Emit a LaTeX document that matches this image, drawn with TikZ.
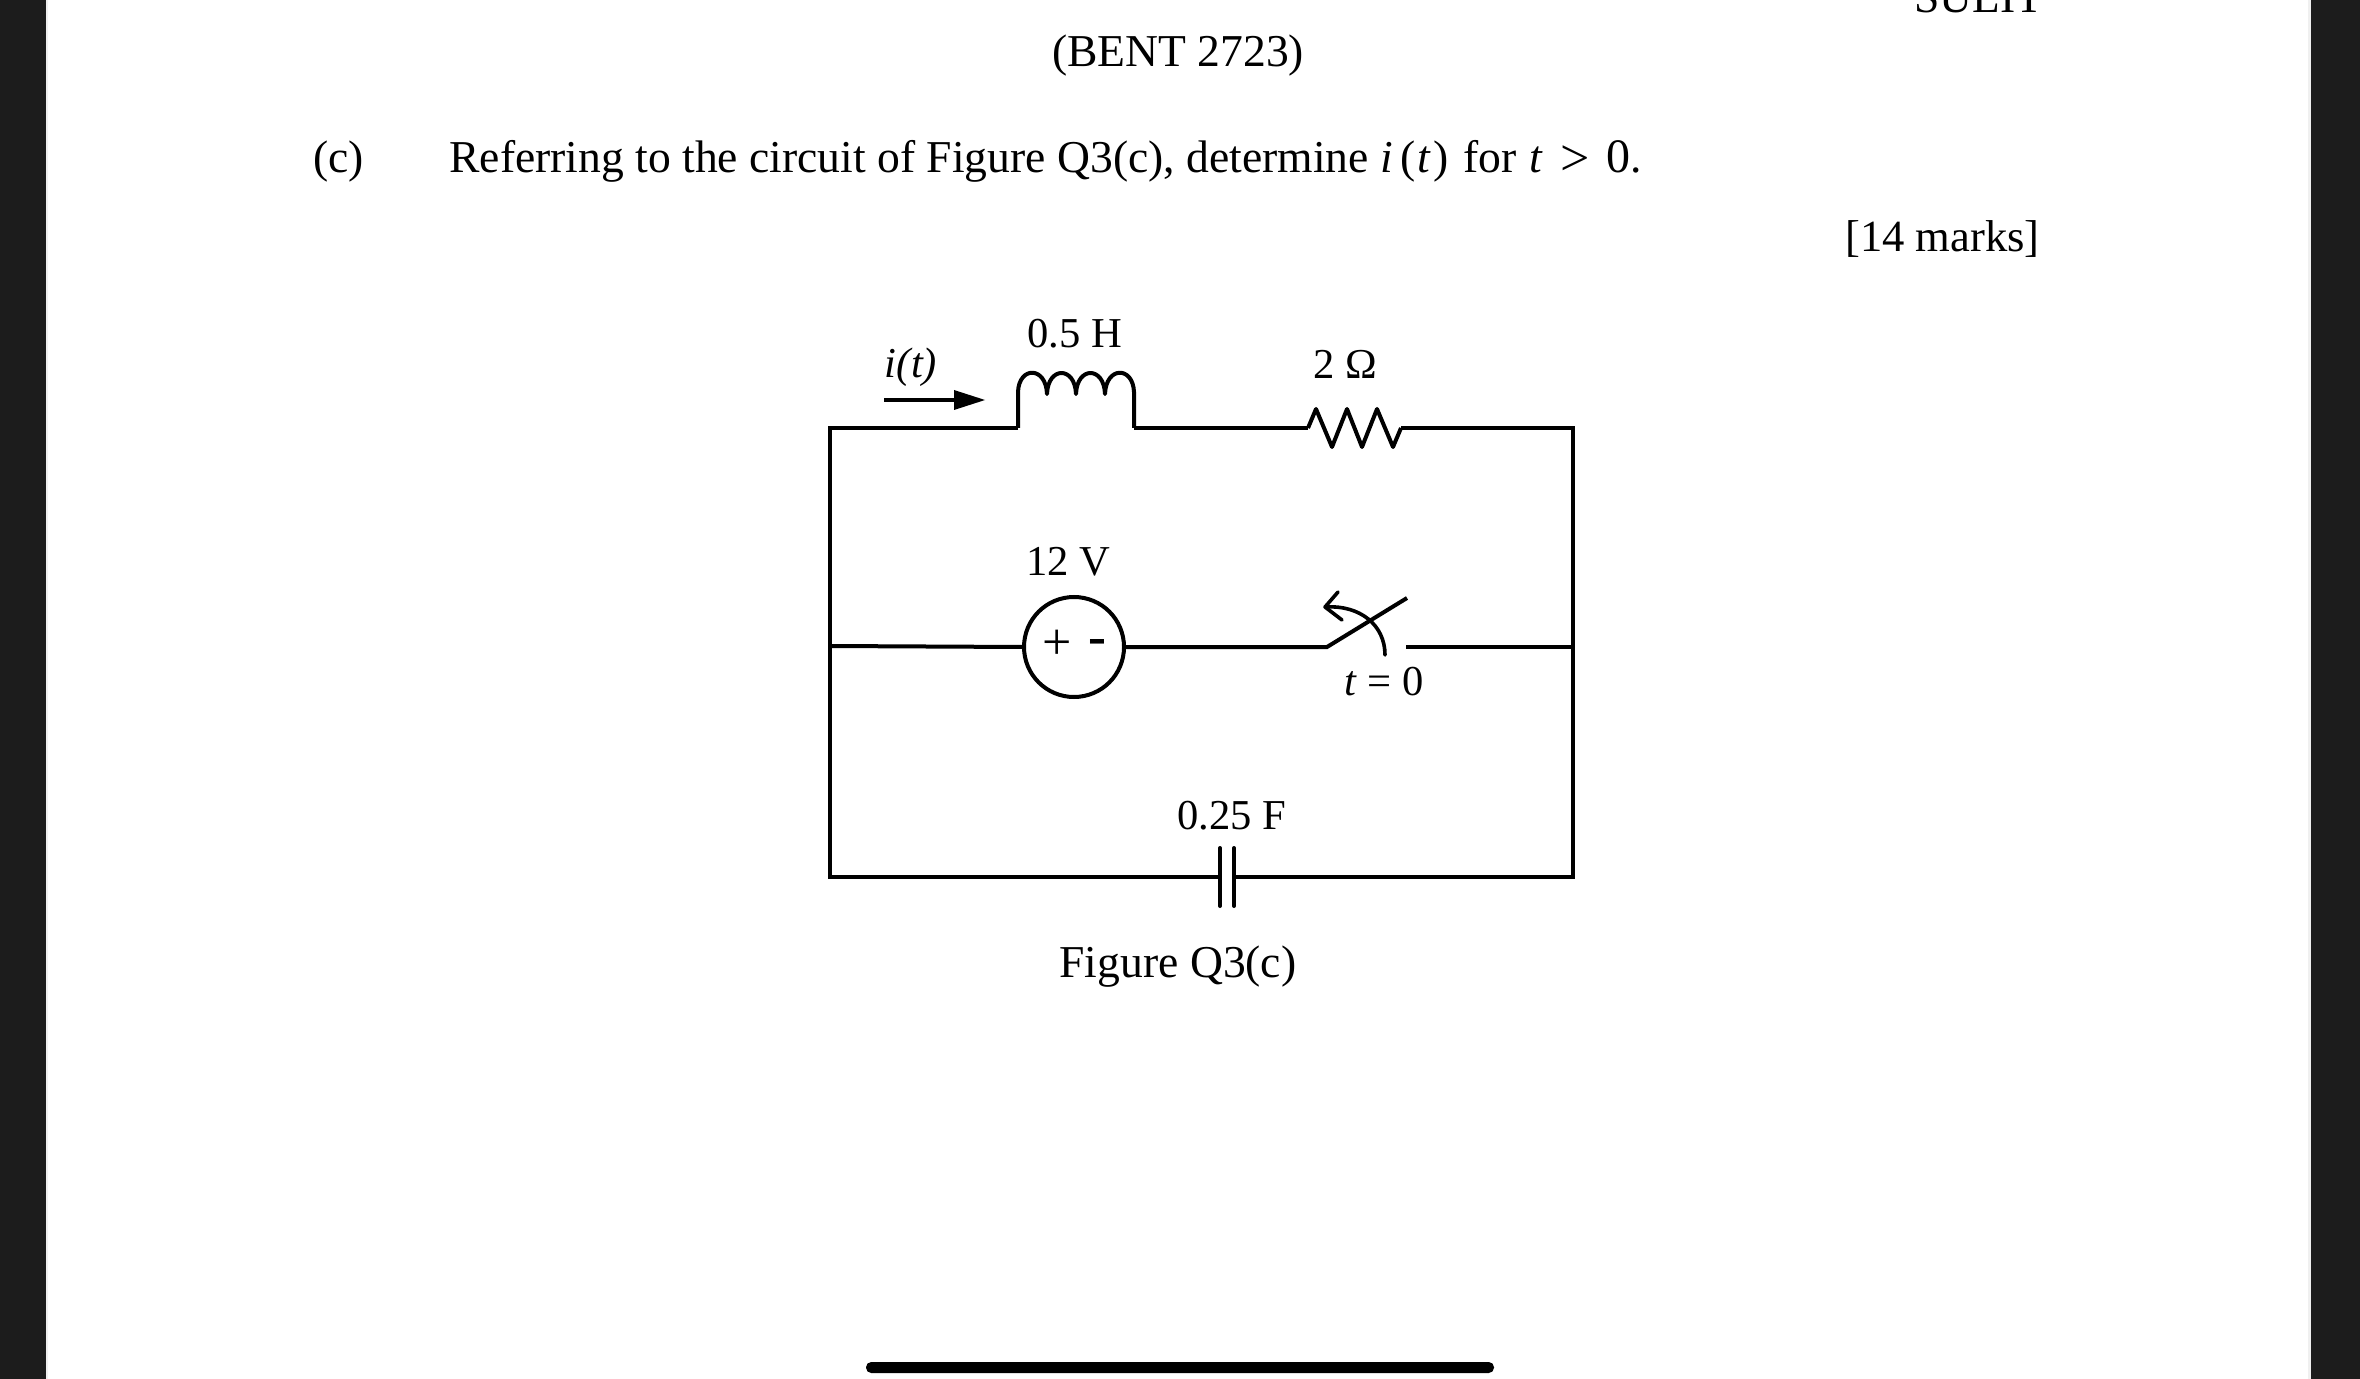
\documentclass[tikz,border=0pt]{standalone}
\usepackage{fontspec}
\setmainfont{Liberation Serif}
\usetikzlibrary{arrows.meta}
\tikzset{
  wire/.style={line width=2pt,line join=miter,line cap=butt},
  lbl/.style={inner sep=0pt,anchor=base,font=\fontsize{21.3}{25}\selectfont},
  body/.style={inner sep=0pt,font=\fontsize{22.8}{27}\selectfont},
  bar/.style={fill=black!89!white,draw=none},
}
\begin{document}
\begin{tikzpicture}[x=0.5pt,y=-0.5pt]
\useasboundingbox (0,0) rectangle (2360,1379);
\fill[white] (0,0) rectangle (2360,1379);
% screen edges and home indicator
\fill[bar] (0,0) rectangle (46,1379);
\fill[bar] (2311,0) rectangle (2360,1379);
\fill[black!6] (46,0) rectangle (48,1379);
\fill[black!6] (2308,0) rectangle (2311,1379);
\fill[black,rounded corners=2.6pt] (866,1362) rectangle (1494,1373);
% page text
\begin{scope}
\clip (0,0) rectangle (2360,1379);
\node[body,anchor=base west] (sulit) at (1914,13) {SULIT};
\end{scope}
\node[body,anchor=base] (bent) at (1178,67) {(BENT 2723)};
\node[body,anchor=base west] (part) at (313,173) {(c)};
\node[body,anchor=base west] (q) at (449,173) {Referring to the circuit of Figure Q3(c), determine \textit{i}\,(\hspace{1pt}\textit{t}\hspace{1.2pt})\hspace{1.5pt} for\hspace{0.8pt} \textit{t}\hspace{3pt} \raisebox{-1.2pt}{\fontsize{26}{26}\selectfont >}\hspace{3pt} {\fontsize{24}{26}\selectfont 0}.};
\node[body,anchor=base east,font=\fontsize{22.3}{27}\selectfont] (marks) at (2040,252) {[14 marks]};
\node[body,anchor=base] (fig) at (1178,977) {Figure Q3(c)};
% component labels
\node[lbl] (lL) at (1075,348) {0.5 H};
\node[lbl] (lI) at (911,378) {\textit{i(t)}};
\node[lbl] (lR) at (1345,379) {2 Ω};
\node[lbl] (lV) at (1068,575) {12 V};
\node[lbl] (lT) at (1384,695) {\textit{t} = 0};
\node[lbl] (lC) at (1232,829) {0.25 F};
% junctions
\coordinate (tl) at (830,428);
\coordinate (tr) at (1573,428);
\coordinate (bl) at (830,877);
\coordinate (br) at (1573,877);
\coordinate (ml) at (830,646);
\coordinate (mr) at (1573,647);
\coordinate (Lin) at (1018,428);
\coordinate (Lout) at (1134,428);
\coordinate (Rin) at (1308,428);
\coordinate (Rout) at (1401,428);
\coordinate (sw) at (1327,647);
\coordinate (swtip) at (1407,598);
\coordinate (swr) at (1406,647);
\coordinate (Ca) at (1220,877);
\coordinate (Cb) at (1234,877);
\coordinate (aS) at (884,400);
\coordinate (aE) at (985,400);
\node[circle,draw,line width=2pt,minimum size=50pt,inner sep=0pt] (src) at (1074,647) {};
\node[inner sep=0pt,font=\fontsize{26}{30}\selectfont] (plus) at (1057,645) {+};
\node[inner sep=0pt,font=\bfseries\fontsize{27}{30}\selectfont] (minus) at (1097,647) {-};
% outer loop
\draw[wire] (Lin) -- (tl) -- (bl) -- (Ca);
\draw[wire] (Lout) -- (Rin);
\draw[wire] (Rout) -- (tr) -- (br) -- (Cb);
% inductor
\draw[wire,line join=round] (Lin) -- (1018,392)
  .. controls (1019,366) and (1046,366) .. (1047,394)
  .. controls (1048,366) and (1075,366) .. (1076,394)
  .. controls (1077,366) and (1104,366) .. (1105,394)
  .. controls (1106,366) and (1133,366) .. (1134,392) -- (Lout);
% resistor
\draw[wire,line join=round] (Rin) -- (1316,409) -- (1332,447) -- (1347,409) -- (1362,447) -- (1377,409) -- (1393,447) -- (Rout);
% current arrow
\draw[wire] (aS) -- (955,400);
\fill (954,390) -- (aE) -- (954,410) -- cycle;
% source branch and switch
\draw[wire] (ml) -- (src.west);
\draw[wire] (src.east) -- (sw) -- (swtip);
\draw[wire] (swr) -- (mr);
\draw[line width=1.8pt,line cap=round] (1385,655) .. controls (1385,625) and (1360,605) .. (1326,607);
\draw[line width=1.8pt,line cap=round,line join=round] (1338,592) -- (1325,607) -- (1342,620);
% capacitor
\draw[wire,line cap=round] (1220,848) -- (Ca) -- (1220,906);
\draw[wire,line cap=round] (1234,848) -- (Cb) -- (1234,906);
\end{tikzpicture}
\end{document}
